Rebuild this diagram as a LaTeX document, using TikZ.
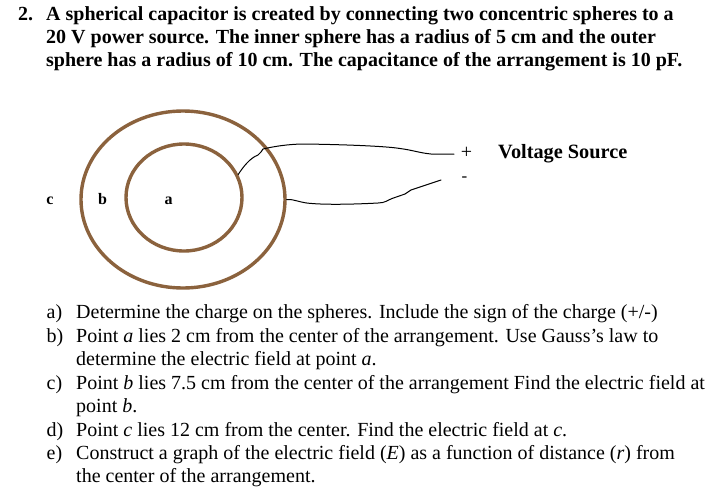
\documentclass[tikz,border=0pt]{standalone}
\usepackage{fontspec}
\usetikzlibrary{shapes.geometric}
\setmainfont{Liberation Serif}
\newcommand{\hsz}{\fontsize{20}{22}\selectfont}
\newcommand{\bsz}{\fontsize{20}{22}\selectfont}
\definecolor{shellbrown}{HTML}{8B623D}
\begin{document}
\begin{tikzpicture}[x=1pt,y=-1pt,
  head/.style={anchor=base west,inner sep=0pt,font=\hsz\bfseries},
  body/.style={anchor=base west,inner sep=0pt,font=\bsz},
  lab/.style={anchor=base,inner sep=0pt,font=\fontsize{16}{18}\selectfont\bfseries},
  shell/.style={draw=shellbrown,line width=3.4pt,ellipse,inner sep=0pt},
  wire/.style={draw=black,line width=1pt,line cap=round,line join=round}]
\useasboundingbox (0,0) rectangle (715,491);
\fill[white] (0,0) rectangle (715,491);
\node[head] (n2) at (18,20.3) {2.};
\node[head] (h1) at (46,20.3) {A spherical capacitor is created by connecting two concentric spheres to a};
\node[head] (h2) at (46,43.8) {20 V power source. The inner sphere has a radius of 5 cm and the outer};
\node[head] (h3) at (46,66.8) {sphere has a radius of 10 cm. The capacitance of the arrangement is 10 pF.};
\node[shell,minimum width=204pt,minimum height=177pt] (outer) at (183,199.5) {};
\node[shell,minimum width=116pt,minimum height=107pt] (inner) at (184,197.5) {};
\node[lab] (a) at (168.5,204) {a};
\node[lab] (b) at (102.5,204) {b};
\node[lab] (c) at (50,204) {c};
\node[anchor=base,inner sep=0pt,font=\fontsize{20}{22}\selectfont] (plus) at (466.5,158) {+};
\node[anchor=base,inner sep=0pt,font=\fontsize{17}{20}\selectfont] (minus) at (464.5,181) {-};
\node[anchor=base west,inner sep=0pt,font=\fontsize{20.3}{22}\selectfont\bfseries] (vs) at (498,158.8) {Voltage Source};
\coordinate (w1) at (454,154);
\coordinate (w2) at (441,180);
\draw[wire] (inner.23) .. controls (243,167) and (250,158) .. (258,155) -- (261,152) -- (263,149)
  .. controls (280,145) and (295,144) .. (305,144) .. controls (340,144.5) and (385,146) .. (400,148.5)
  .. controls (412,150) and (420,153) .. (431,154) -- (w1);
\draw[wire] (outer.east) .. controls (295,199) and (300,203) .. (312,203.5)
  .. controls (330,205) and (360,204) .. (378,203) .. controls (385,203) and (388,200) .. (392,198.5)
  -- (405,194) -- (411,190) -- (w2);
\node[body] (a1) at (46.5,318.6) {a)};
\node[body] (a2) at (76,318.6) {Determine the charge on the spheres. Include the sign of the charge (+/-)};
\node[body] (b1) at (46.5,342.6) {b)};
\node[body] (b2) at (76,342.6) {Point \textit{a} lies 2 cm from the center of the arrangement. Use Gauss’s law to};
\node[body] (b3) at (76,365.6) {determine the electric field at point \textit{a}.};
\node[body] (c1) at (46.5,389) {c)};
\node[body] (c2) at (76,389) {Point \textit{b} lies 7.5 cm from the center of the arrangement Find the electric field at};
\node[body] (c3) at (76,412.3) {point \textit{b}.};
\node[body] (d1) at (46.5,436.6) {d)};
\node[body] (d2) at (76,436.6) {Point \textit{c} lies 12 cm from the center. Find the electric field at \textit{c}.};
\node[body] (e1) at (46.5,459.6) {e)};
\node[body] (e2) at (76,459.6) {Construct a graph of the electric field (\textit{E}) as a function of distance (\textit{r}) from};
\node[body] (e3) at (76,482.6) {the center of the arrangement.};
\end{tikzpicture}
\end{document}
